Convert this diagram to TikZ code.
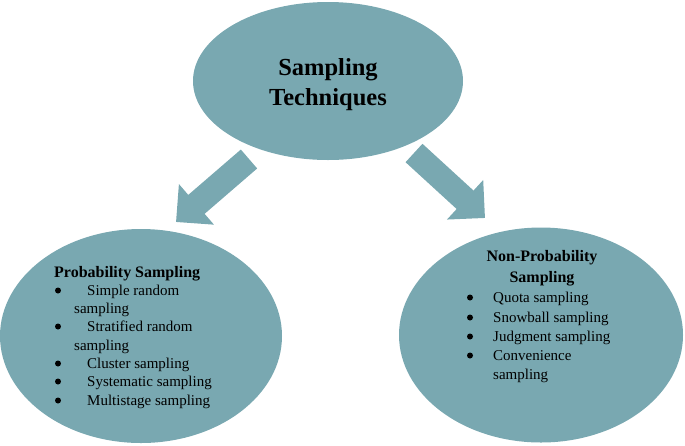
\documentclass[tikz,border=0pt]{standalone}
\usepackage{fontspec}
\setmainfont{Liberation Serif}
\usepackage{tikz}
\usetikzlibrary{shapes.geometric,arrows.meta}

\definecolor{techfill}{HTML}{79A8B1}

\tikzset{
  blob/.style={ellipse, fill=techfill, inner sep=0pt},
  item/.style={anchor=base west, inner sep=0pt, font=\fontsize{15}{18}\selectfont},
  dot/.style={circle, fill=black, minimum size=6pt, inner sep=0pt, yshift=4.5pt},
  head/.style={anchor=base, inner sep=0pt, font=\fontsize{16}{19}\selectfont\bfseries},
  title/.style={anchor=base, inner sep=0pt, font=\fontsize{24.5}{30}\selectfont\bfseries},
  bigarrow/.style={techfill, line width=25pt, -{Triangle[length=27pt, width=52pt]}}
}

\begin{document}
\begin{tikzpicture}[x=1pt, y=-1pt]

\useasboundingbox (0,0) rectangle (685,445);

% ellipses
\node(top)[blob, minimum width=270pt, minimum height=158pt] at (328,81) {};
\node(prob)[blob, minimum width=282pt, minimum height=214pt] at (141,336) {};
\node(nonprob)[blob, minimum width=284pt, minimum height=215pt] at (541,335) {};

% arrows
\coordinate(ltail) at (249,159);
\coordinate(ltip) at (176,222);
\coordinate(rtail) at (414,153);
\coordinate(rtip) at (485,218);
\draw[bigarrow] (ltail) -- (ltip);
\draw[bigarrow] (rtail) -- (rtip);

% title
\node(t1)[title] at (328,75) {Sampling};
\node(t2)[title] at (328,105) {Techniques};

% probability sampling
\node(ph)[head, anchor=base west] at (54,277) {Probability Sampling};
\node(pb1)[dot] at (58,295) {};
\node(p1)[item] at (87,295) {Simple random};
\node(p1b)[item] at (74,313) {sampling};
\node(pb2)[dot] at (58,331) {};
\node(p2)[item] at (87,331) {Stratified random};
\node(p2b)[item] at (74,350) {sampling};
\node(pb3)[dot] at (58,368) {};
\node(p3)[item] at (87,368) {Cluster sampling};
\node(pb4)[dot] at (58,386) {};
\node(p4)[item] at (87,386) {Systematic sampling};
\node(pb5)[dot] at (58,405) {};
\node(p5)[item] at (87,405) {Multistage sampling};

% non-probability sampling
\node(nh1)[head] at (542,261) {Non-Probability};
\node(nh2)[head] at (542,282) {Sampling};
\node(nb1)[dot] at (470,302) {};
\node(n1)[item] at (493,302) {Quota sampling};
\node(nb2)[dot] at (470,322) {};
\node(n2)[item] at (493,322) {Snowball sampling};
\node(nb3)[dot] at (470,341) {};
\node(n3)[item] at (493,341) {Judgment sampling};
\node(nb4)[dot] at (470,360) {};
\node(n4)[item] at (493,360) {Convenience};
\node(n4b)[item] at (493,379) {sampling};

\end{tikzpicture}
\end{document}
